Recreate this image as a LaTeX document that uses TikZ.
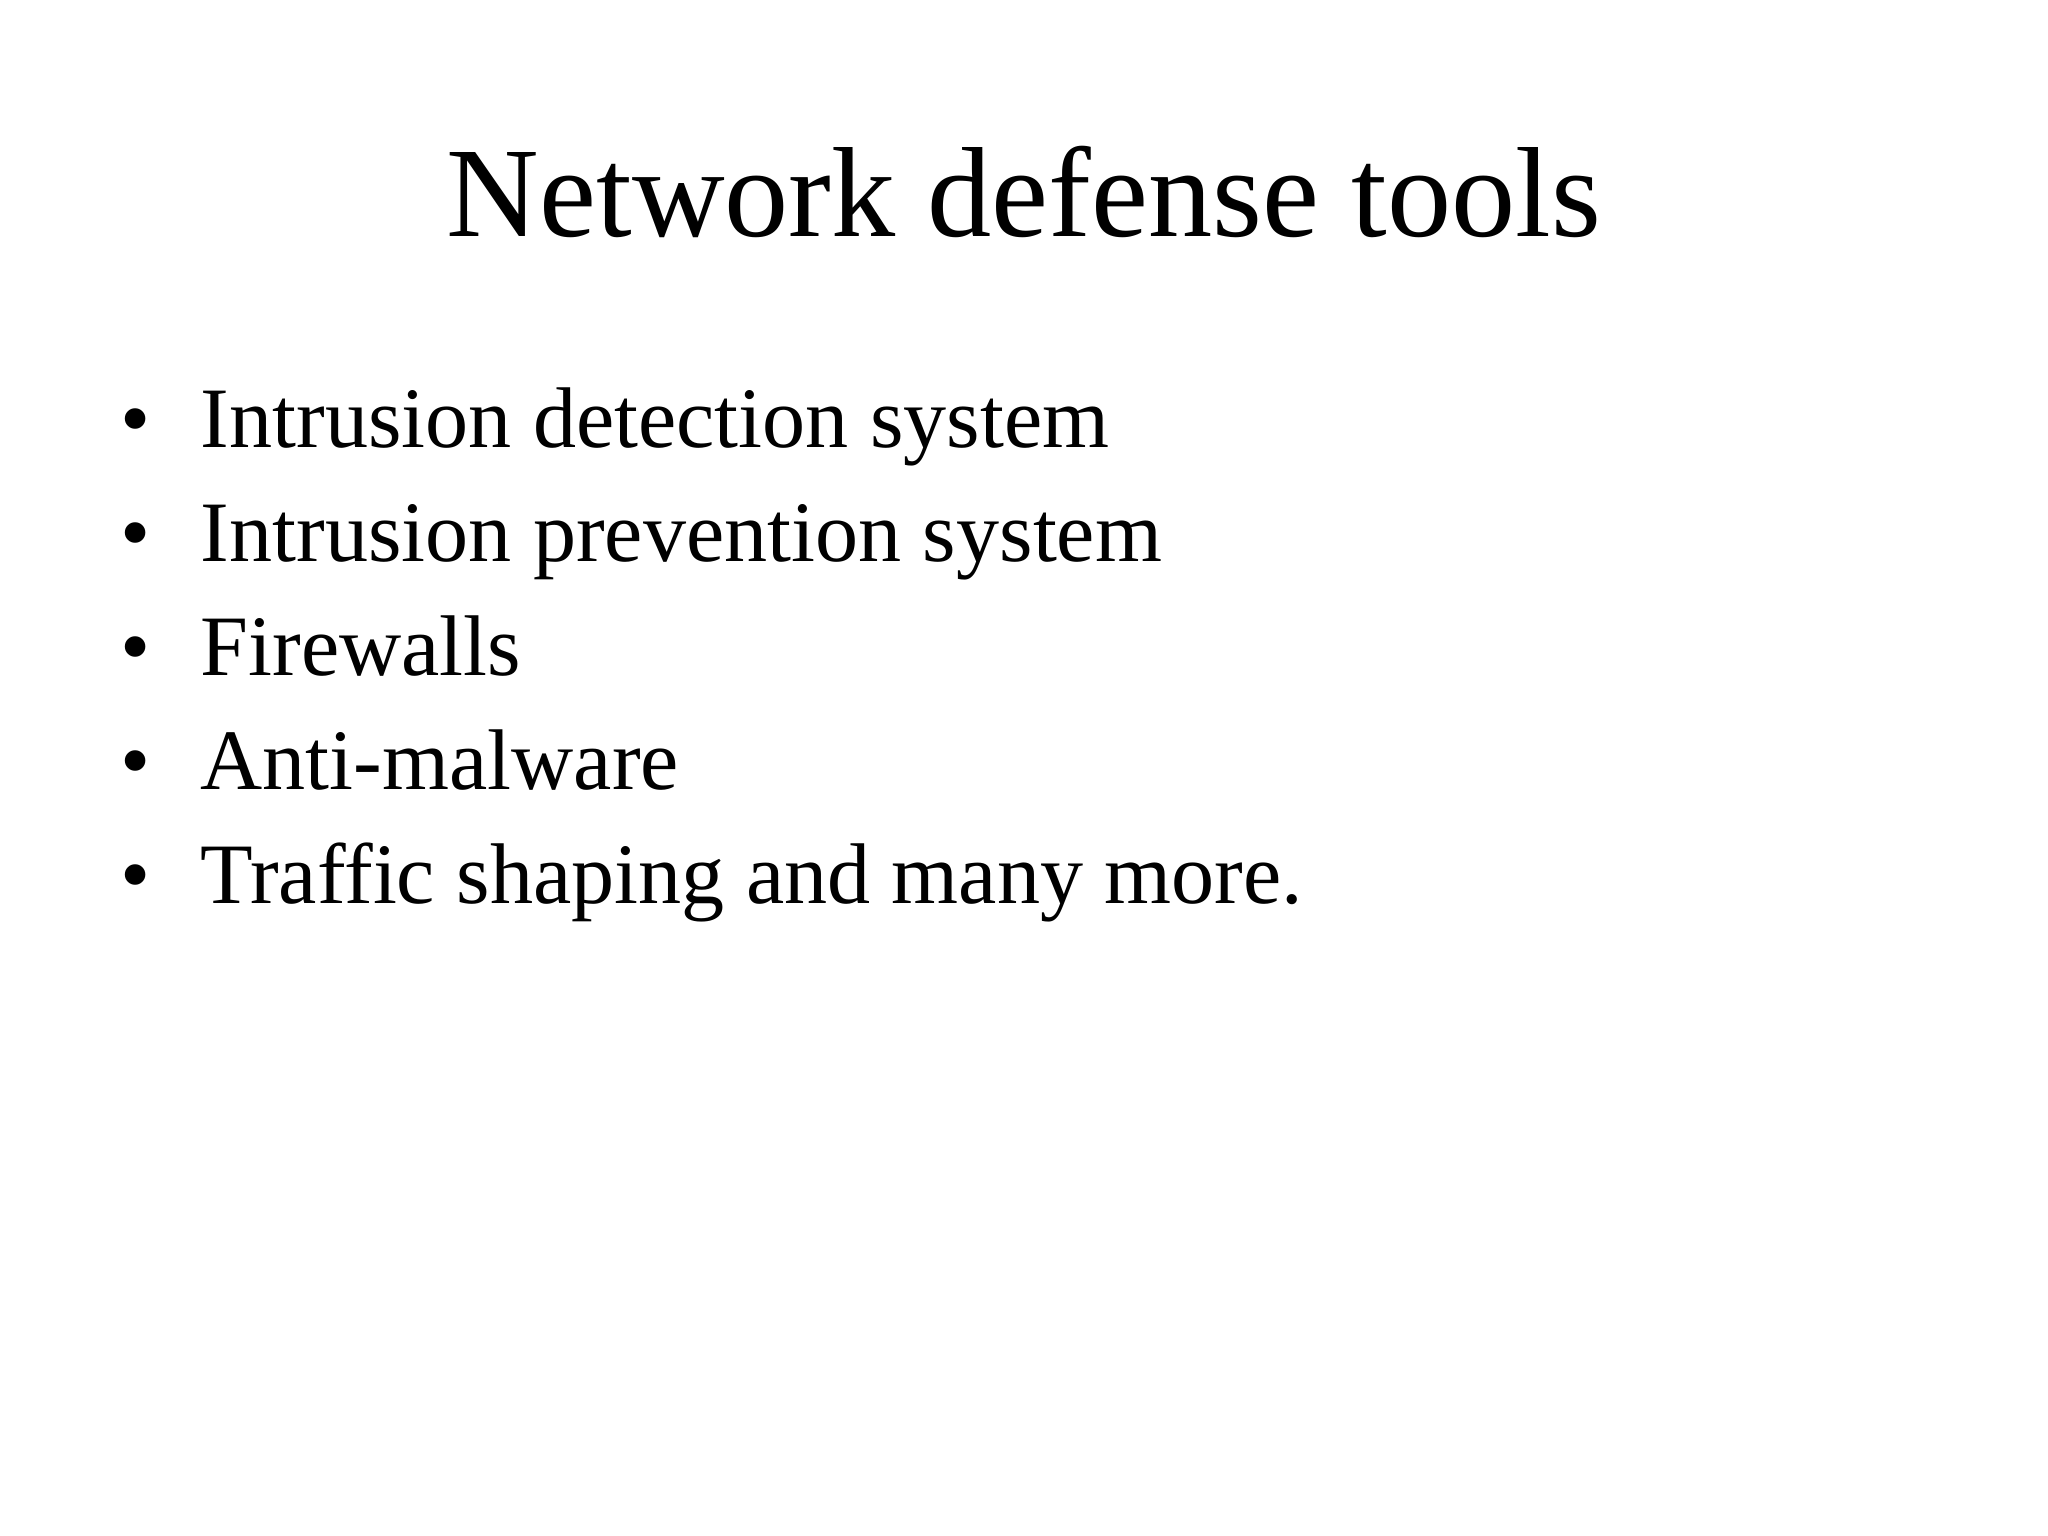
\documentclass[tikz,border=0pt]{standalone}
\usepackage{fontspec}
\setmainfont{Liberation Serif}
\begin{document}
\begin{tikzpicture}[x=1cm,y=1cm,
  item/.style={anchor=base west,inner sep=0pt,font=\fontsize{24.5}{29}\selectfont},
  bul/.style={anchor=base,inner sep=0pt,font=\fontsize{24.5}{29}\selectfont}]
\useasboundingbox (0,0) rectangle (20.48,15.36);
\node[anchor=base,inner sep=0pt,font=\fontsize{36.5}{44}\selectfont] (title) at (10.24,12.99) {Network defense tools};
\foreach \t [count=\i] in {Intrusion detection system,Intrusion prevention system,Firewalls,Anti-malware,Traffic shaping and many more.}{
  \node[bul] (b\i) at (1.36,{15.36-4.48-(\i-1)*1.14}) {•};
  \node[item] (t\i) at (2.0,{15.36-4.48-(\i-1)*1.14}) {\t};
}
\end{tikzpicture}
\end{document}
